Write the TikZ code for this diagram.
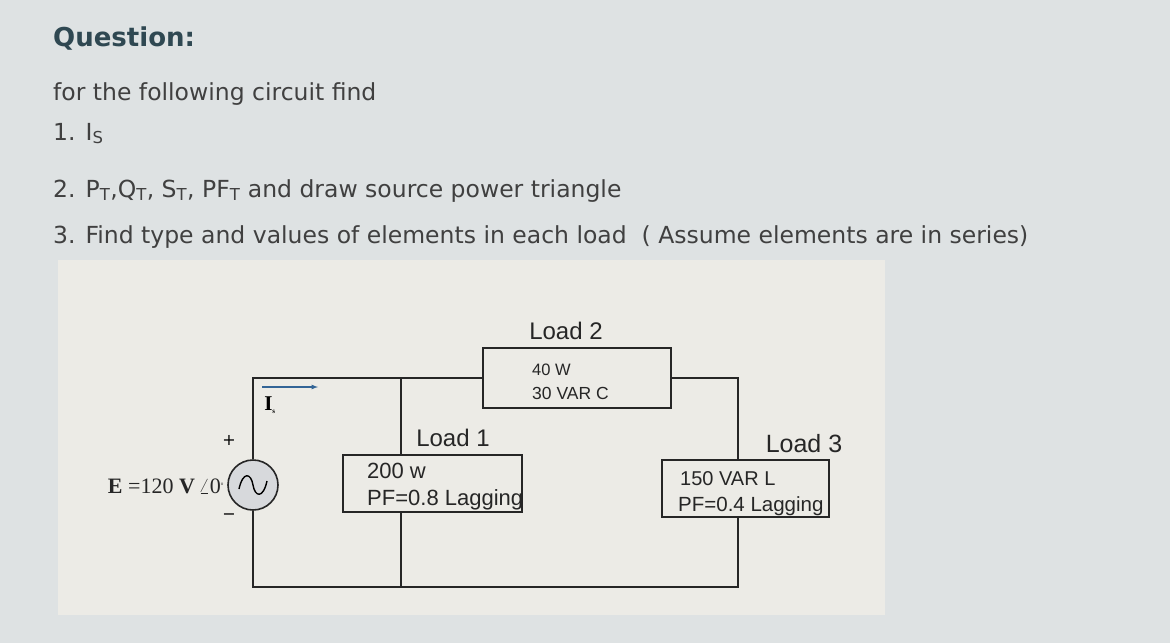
\documentclass[tikz,border=0pt]{standalone}
\usepackage{fontspec}
\usetikzlibrary{calc}
\setmainfont{DejaVu Sans}
\newfontfamily\arial{Liberation Sans}
\newfontfamily\serifx{Liberation Serif}
\begin{document}
\begin{tikzpicture}[x=1pt,y=-1pt,
  wire/.style={line width=1.6pt,draw=black!85},
  loadbox/.style={wire},
  ctext/.style={font=\arial\fontsize{22}{24}\selectfont,text=black!85,inner sep=0pt},
  qtext/.style={font=\fontsize{23.5}{26}\selectfont,text=black!75,anchor=base west,inner sep=0pt}]
\fill[color={rgb,255:red,222;green,226;blue,227}] (0,0) rectangle (1170,643);
\useasboundingbox (0,0) rectangle (1170,643);
\fill[color={rgb,255:red,236;green,235;blue,230}] (58,260) rectangle (885,615);
% question text
\node[anchor=base west,inner sep=0pt,font=\bfseries\fontsize{26}{28}\selectfont,text={rgb,255:red,47;green,72;blue,82}] (q) at (53,46) {Question:};
\node[qtext] (l0) at (53,100) {for the following circuit find};
\node[qtext] (l1) at (53,140) {1. I\textsubscript{S}};
\node[qtext] (l2) at (53,197) {2. P\textsubscript{T},Q\textsubscript{T}, S\textsubscript{T}, PF\textsubscript{T} and draw source power triangle};
\node[qtext] (l3) at (53,243) {3. Find type and values of elements in each load \ ( Assume elements are in series)};
% circuit
\node[circle,draw=black!85,line width=1.6pt,fill={rgb,255:red,215;green,217;blue,220},minimum size=50pt,inner sep=0pt] (src) at (253,485) {};
\draw[line width=1.4pt] ($(src)+(-14,4)$) .. controls ($(src)+(-10,-14)$) and ($(src)+(-2,-12)$) .. ($(src)+(0,0)$) .. controls ($(src)+(2,12)$) and ($(src)+(10,14)$) .. ($(src)+(14,-4)$);
\node[loadbox,minimum width=188pt,minimum height=60pt,inner sep=0pt] (L2) at (577,378) {};
\node[loadbox,minimum width=179pt,minimum height=57pt,inner sep=0pt] (L1) at (432.5,483.5) {};
\node[loadbox,minimum width=167pt,minimum height=57pt,inner sep=0pt] (L3) at (745.5,488.5) {};
\coordinate (tl) at (253,378);
\coordinate (j1) at (401,378);
\coordinate (bl) at (253,587);
\coordinate (j2) at (401,587);
\coordinate (br) at (738,587);
\coordinate (tr) at (738,378);
\draw[wire] (src.north) -- (tl) -- (L2.west);
\draw[wire] (j1) -- (L1.north -| j1);
\draw[wire] (L1.south -| j1) -- (j2);
\draw[wire] (src.south) -- (bl) -- (br) -- (L3.south -| br);
\draw[wire] (L2.east) -- (tr) -- (L3.north -| tr);
% labels
\node[ctext,anchor=base,font=\arial\fontsize{24}{26}\selectfont] (t2) at (566,339) {Load 2};
\node[ctext,anchor=base west,font=\arial\fontsize{16.5}{18}\selectfont] (t2a) at (532,375) {40 W};
\node[ctext,anchor=base west,font=\arial\fontsize{17.5}{18}\selectfont] (t2b) at (532,399) {30 VAR C};
\node[ctext,anchor=base,font=\arial\fontsize{24}{26}\selectfont] (t1) at (453,446) {Load 1};
\node[ctext,anchor=base west] (t1a) at (367,478) {200 w};
\node[ctext,anchor=base west] (t1b) at (367,505) {PF=0.8 Lagging};
\node[ctext,anchor=base,font=\arial\fontsize{25}{26}\selectfont] (t3) at (804,452) {Load 3};
\node[ctext,anchor=base west,font=\arial\fontsize{20}{22}\selectfont] (t3a) at (680,485) {150 VAR L};
\node[ctext,anchor=base west,font=\arial\fontsize{20.5}{22}\selectfont] (t3b) at (678,511) {PF=0.4 Lagging};
\node[anchor=base east,inner sep=0pt,font=\serifx\fontsize{22}{24}\selectfont,text=black!85] (e) at (224,493) {\textbf{E} =120 \textbf{V}\,$\angle$0\textsuperscript{\tiny o}};
\node[inner sep=0pt,font=\fontsize{16}{18}\selectfont] (plus) at (229,440) {+};
\node[inner sep=0pt,font=\fontsize{16}{18}\selectfont] (minus) at (229,517) {−};
\node[inner sep=0pt,font=\serifx\bfseries\fontsize{21}{22}\selectfont] (is) at (270,405) {I\textsubscript{\scriptsize s}};
\coordinate (a1) at (262,387);
\coordinate (a2) at (318,387);
\draw[-latex,line width=1.2pt,color={rgb,255:red,50;green,100;blue,150}] (a1) -- (a2);
\end{tikzpicture}
\end{document}
